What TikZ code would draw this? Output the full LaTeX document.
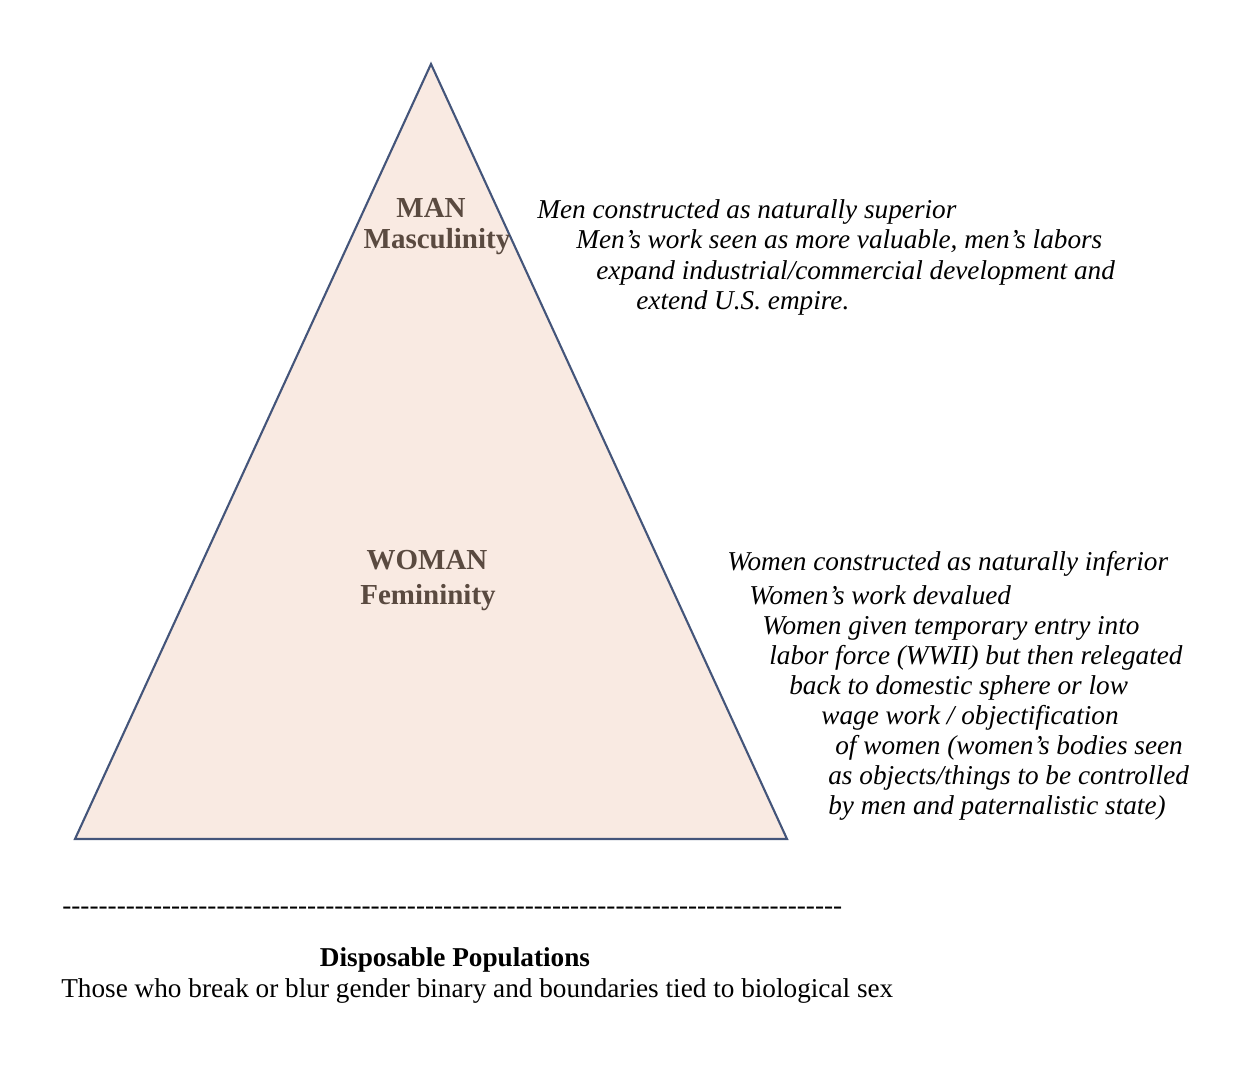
\documentclass[tikz,border=0pt]{standalone}
\usepackage{fontspec}
\setmainfont{Liberation Serif}
\newfontfamily\plainf{Liberation Serif}
\begin{document}
\begin{tikzpicture}[x=0.02cm,y=-0.02cm,
  it/.style={anchor=base west,inner sep=0pt,font=\fontsize{15.5}{18}\selectfont\itshape},
  lab/.style={anchor=base,inner sep=0pt,text=labbrown,font=\fontsize{16.5}{19}\selectfont\bfseries},
  rg/.style={anchor=base west,inner sep=0pt,font=\fontsize{15.5}{18}\selectfont}]
\definecolor{labbrown}{HTML}{5A4A40}
\definecolor{tri}{HTML}{F9EAE2}
\definecolor{edge}{HTML}{44557A}
\useasboundingbox (0,0) rectangle (1239,1072);
\coordinate (apex) at (431,64);
\coordinate (bl) at (75,839);
\coordinate (br) at (787,839);
\draw[edge,fill=tri,line width=1.2pt] (apex) -- (br) -- (bl) -- cycle;
\node[lab] (man) at (431,217) {MAN};
\node[lab] (masc) at (437,248) {Masculinity};
\node[lab] (woman) at (427,569) {WOMAN};
\node[lab] (fem) at (428,604) {Femininity};
\node[it] (m1) at (537,218) {Men constructed as naturally superior};
\node[it] (m2) at (576,248) {Men’s work seen as more valuable, men’s labors};
\node[it] (m3) at (596,279) {expand industrial/commercial development and};
\node[it] (m4) at (636,309) {extend U.S. empire.};
\node[it] (w1) at (727,570) {Women constructed as naturally inferior};
\node[it] (w2) at (749,604) {Women’s work devalued};
\node[it] (w3) at (762,634) {Women given temporary entry into};
\node[it] (w4) at (769,664) {labor force (WWII) but then relegated};
\node[it] (w5) at (789,694) {back to domestic sphere or low};
\node[it] (w6) at (821,724) {wage work / objectification};
\node[it] (w7) at (835,754) {of women (women’s bodies seen};
\node[it] (w8) at (828,784) {as objects/things to be controlled};
\node[it] (w9) at (828,814) {by men and paternalistic state)};
\node[rg,font=\fontsize{15.5}{18}\selectfont\plainf] (dash) at (62,914) {--------------------------------------------------------------------------------------};
\node[anchor=base,inner sep=0pt,font=\fontsize{15.5}{18}\selectfont\bfseries] (dp) at (455,966) {Disposable Populations};
\node[rg] (those) at (61,997) {Those who break or blur gender binary and boundaries tied to biological sex};
\end{tikzpicture}
\end{document}
